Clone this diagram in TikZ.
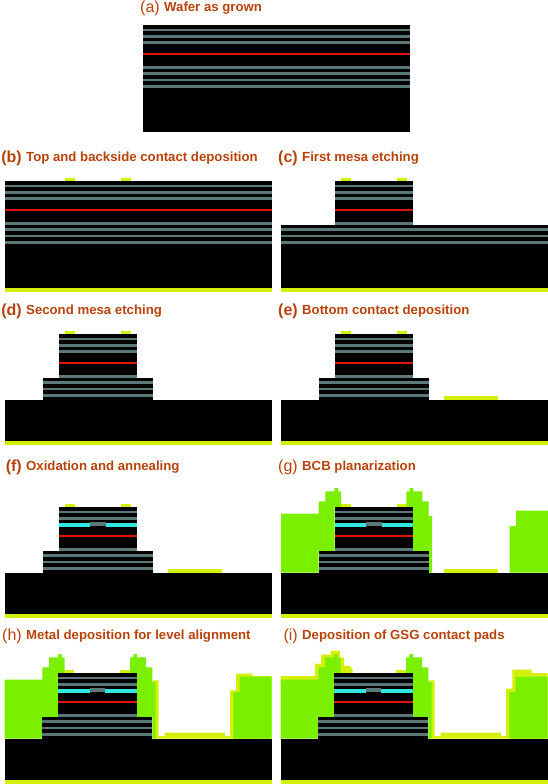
\documentclass[tikz,border=0pt]{standalone}
\usepackage{fontspec}
\setmainfont{Liberation Sans}
\usetikzlibrary{positioning}
\definecolor{wafercolor}{RGB}{0, 0, 0}
\definecolor{stripecolor}{RGB}{92, 120, 120}
\definecolor{qwcolor}{RGB}{225, 20, 10}
\definecolor{oxidecolor}{RGB}{50, 230, 225}
\definecolor{metalcolor}{RGB}{212, 240, 10}
\definecolor{bcbcolor}{RGB}{122, 240, 0}
\definecolor{titlecolor}{RGB}{184, 66, 10}
\tikzset{
titlelabel/.style={
  font=\bfseries\fontsize{13.2}{15}\selectfont,
  text=titlecolor,
  inner sep=0pt,
  anchor=west
},
taglabel/.style={
  font=\fontsize{16}{18}\selectfont,
  text=titlecolor,
  inner sep=0pt
},
boldtag/.style={
  taglabel,
  font=\bfseries\fontsize{16}{18}\selectfont
}
}
% one stripe: left, right, centre
\newcommand{\stripe}[3]{\fill[stripecolor] (#1,#3-1.4) rectangle (#2,#3+1.4);}
\newcommand{\qwline}[2]{\fill[qwcolor] (#1,27.8) rectangle (#2,29.6);}
% wafer cross sections, origin at top left of the stack
\newcommand{\flatwafer}{
  \fill[wafercolor] (0,0) rectangle (267,107);
  \foreach \y in {5,11.3,17.7,42.3,48.7,55,61.7} {\stripe{0}{267}{\y}}
  \qwline{0}{267}
}
\newcommand{\firstmesa}{
  \fill[wafercolor] (53.5,0) rectangle (132,44);
  \fill[wafercolor] (0,44) rectangle (267,107);
  \foreach \y in {5,11.3,17.7,42.3} {\stripe{53.5}{132}{\y}}
  \foreach \y in {48.7,55,61.7} {\stripe{0}{267}{\y}}
  \qwline{53.5}{132}
}
\newcommand{\secondmesa}{
  \fill[wafercolor] (53.5,0) rectangle (132,44);
  \fill[wafercolor] (37.7,44) rectangle (147.7,65.5);
  \fill[wafercolor] (0,65.5) rectangle (267,107);
  \foreach \y in {5,11.3,17.7,42.3} {\stripe{53.5}{132}{\y}}
  \foreach \y in {48.7,55,61.7} {\stripe{37.7}{147.7}{\y}}
  \qwline{53.5}{132}
}
\newcommand{\oxidelayer}{
  \fill[wafercolor] (53.5,15) rectangle (132,20.5);
  \fill[oxidecolor] (53.5,15.5) rectangle (85,19.8);
  \fill[oxidecolor] (100.7,15.5) rectangle (132,19.8);
  \fill[stripecolor] (85,15) rectangle (100.7,18.8);
}
\newcommand{\topcontacts}{
  \fill[metalcolor] (59.5,-3.3) rectangle (69.5,0);
  \fill[metalcolor] (115.7,-3.3) rectangle (126,0);
}
\newcommand{\backcontact}{
  \fill[metalcolor] (0,107) rectangle (267,110.7);
}
\newcommand{\bottomcontact}{
  \fill[metalcolor] (162.7,62.3) rectangle (216.7,65.5);
}
\newcommand{\bcbfill}{
  \fill[bcbcolor] (0,65.5) -- (0,6.5) -- (37.7,6.5) -- (37.7,-5.7) -- (44.3,-5.7) -- (44.3,-15.7)
    -- (53.3,-15.7) -- (53.3,-19) -- (57,-19) -- (57,-15.7) -- (60,-15.7) -- (60,0)
    -- (53.5,0) -- (53.5,44) -- (37.7,44) -- (37.7,65.5) -- cycle;
  \fill[bcbcolor] (125.3,0) -- (125.3,-15.7) -- (128.7,-15.7) -- (128.7,-19) -- (132.3,-19)
    -- (132.3,-15.7) -- (141.3,-15.7) -- (141.3,-5.7) -- (147.7,-5.7) -- (147.7,9)
    -- (151,9) -- (151,65.5) -- (147.7,65.5) -- (147.7,44) -- (132,44) -- (132,0) -- cycle;
  \fill[bcbcolor] (228.7,65.5) -- (228.7,19) -- (235,19) -- (235,3.5) -- (267,3.5) -- (267,65.5) -- cycle;
}
\begin{document}
\begin{tikzpicture}[x=1pt,y=-1pt]
\useasboundingbox (0,0) rectangle (548,784);

\node[titlelabel] (titlea) at (164,8) {Wafer as grown};
\node[taglabel, left=4pt of titlea.west] (taga) {(a)};
\node[titlelabel] (titleb) at (26,158) {Top and backside contact deposition};
\node[boldtag, left=4pt of titleb.west] (tagb) {(b)};
\node[titlelabel] (titlec) at (302,158) {First mesa etching};
\node[boldtag, left=4pt of titlec.west] (tagc) {(c)};
\node[titlelabel] (titled) at (26,311) {Second mesa etching};
\node[boldtag, left=4pt of titled.west] (tagd) {(d)};
\node[titlelabel] (titlee) at (302,311) {Bottom contact deposition};
\node[boldtag, left=4pt of titlee.west] (tage) {(e)};
\node[titlelabel] (titlef) at (26,467) {Oxidation and annealing};
\node[boldtag, left=4pt of titlef.west] (tagf) {(f)};
\node[titlelabel] (titleg) at (302,467) {BCB planarization};
\node[taglabel, left=4pt of titleg.west] (tagg) {(g)};
\node[titlelabel] (titleh) at (26,636) {Metal deposition for level alignment};
\node[taglabel, left=4pt of titleh.west] (tagh) {(h)};
\node[titlelabel] (titlei) at (302,636) {Deposition of GSG contact pads};
\node[taglabel, left=4pt of titlei.west] (tagi) {(i)};

\begin{scope}[shift={(143,25)}]
  \flatwafer
\end{scope}
\begin{scope}[shift={(5,181)}]
  \topcontacts \backcontact \flatwafer
\end{scope}
\begin{scope}[shift={(281,181)}]
  \topcontacts \backcontact \firstmesa
\end{scope}
\begin{scope}[shift={(5,334)}]
  \topcontacts \backcontact \secondmesa
\end{scope}
\begin{scope}[shift={(281,334)}]
  \topcontacts \backcontact \bottomcontact \secondmesa
\end{scope}
\begin{scope}[shift={(5,507)}]
  \topcontacts \backcontact \bottomcontact \secondmesa \oxidelayer
\end{scope}
\begin{scope}[shift={(281,507)}]
  \topcontacts \backcontact \bottomcontact \bcbfill \secondmesa \oxidelayer
\end{scope}

% level alignment metal
\begin{scope}[shift={(4.7,673)}]
  \topcontacts \backcontact
  \fill[metalcolor] (148,7.3) -- (154,7.3) -- (154,63) -- (160,63) -- (160,59.7) -- (220.3,59.7)
    -- (220.3,63) -- (225.3,63) -- (225.3,17.3) -- (231.3,17.3) -- (231.3,0.7) -- (248,0.7)
    -- (248,3) -- (267,3) -- (267,65.5) -- (148,65.5) -- cycle;
  \bcbfill \secondmesa \oxidelayer
\end{scope}

% contact pads on top of that
\begin{scope}[shift={(280.7,673)}]
  \topcontacts \backcontact
  \fill[metalcolor] (148,7.3) -- (154,7.3) -- (154,63) -- (160,63) -- (160,59.7) -- (220.3,59.7)
    -- (220.3,63) -- (225.3,63) -- (225.3,15.7) -- (231.7,15.7) -- (231.7,-3.3) -- (251,-3.3)
    -- (251,0) -- (267,0) -- (267,65.5) -- (148,65.5) -- cycle;
  \fill[metalcolor] (0,10) -- (0,3) -- (34.3,3) -- (34.3,-9.3) -- (40.3,-9.3) -- (40.3,-18.3)
    -- (50,-18.3) -- (50,-22.3) -- (59.3,-22.3) -- (59.3,-15.3) -- (63.3,-15.3) -- (63.3,-7)
    -- (69.3,-7) -- (72,-2.7) -- (72,0) -- (53,10) -- cycle;
  \bcbfill \secondmesa \oxidelayer
\end{scope}
\end{tikzpicture}
\end{document}
